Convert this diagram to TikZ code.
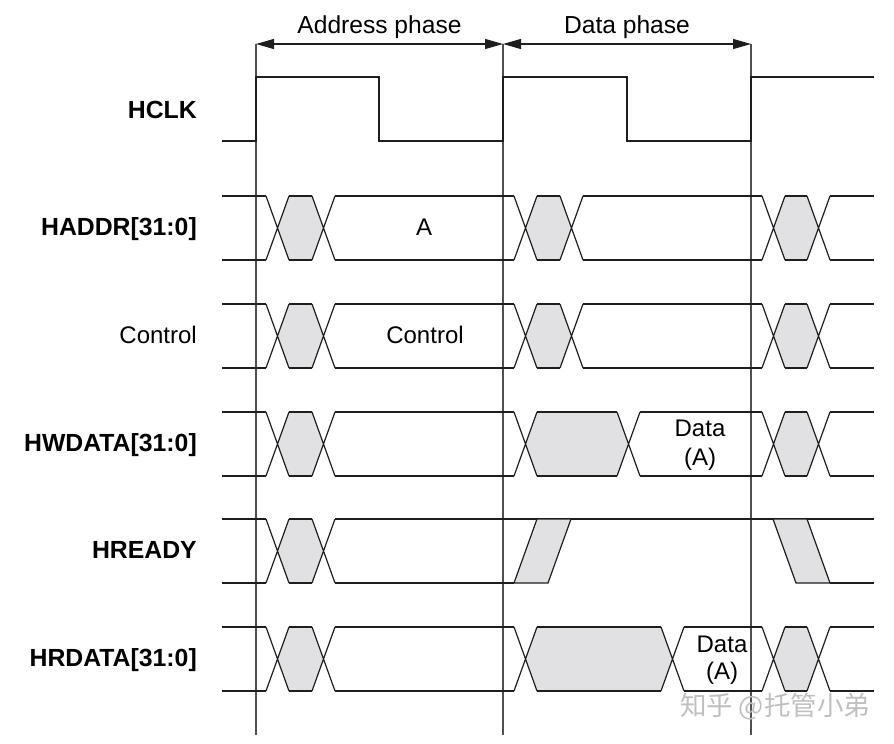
\documentclass[tikz,border=0pt]{standalone}
\usepackage{xcolor}
\usepackage{fontspec}
\setmainfont{Liberation Sans}
\newfontfamily\cjk{Noto Sans CJK SC}
\usepackage{tikz}
\usetikzlibrary{arrows.meta}

\definecolor{sigline}{RGB}{30,30,30}
\definecolor{edgeline}{RGB}{80,80,80}
\definecolor{busgrey}{RGB}{225,225,227}

% one bus crossing (an X) starting at x=#1 on the row whose top is #2
\newcommand{\xing}[2]{%
  \draw[sig] (#1,#2) -- ++(23,64) (#1,#2+64) -- ++(23,-64);}
% grey hexagon between the crossings at #1 and #2, row top #3
\newcommand{\hexfill}[3]{%
  \fill[busgrey] (#1+11.5,#3+32) -- (#1+23,#3) -- (#2,#3) -- (#2+11.5,#3+32)
    -- (#2,#3+64) -- (#1+23,#3+64) -- cycle;}

\begin{document}
\begin{tikzpicture}[x=1pt, y=-1pt,
    sig/.style={draw=sigline, line width=1.2pt, line join=miter},
    edgeln/.style={draw=edgeline, line width=1.1pt},
    phase/.style={draw=sigline, line width=1.1pt, {Triangle[length=18pt,width=10pt]}-{Triangle[length=18pt,width=10pt]}},
    lbl/.style={anchor=base east, inner sep=0pt, font=\fontsize{24}{28}\selectfont},
    signame/.style={lbl, font=\fontsize{24.8}{28}\selectfont\bfseries},
    txt/.style={anchor=base, inner sep=0pt, font=\fontsize{24}{28}\selectfont},
    ]
  \useasboundingbox (0,0) rectangle (894,744);

  % clock edges
  \coordinate (e1) at (256,44);
  \coordinate (e2) at (503,44);
  \coordinate (e3) at (751,44);
  \foreach \e in {e1,e2,e3}
    \draw[edgeln] (\e) -- ++(0,691);
  \draw[phase] (e1) -- (e2);
  \draw[phase] (e2) -- (e3);
  \node[txt, font=\fontsize{24.6}{28}\selectfont] (addr) at (379.5,33) {Address phase};
  \node[txt, font=\fontsize{24.6}{28}\selectfont] (data) at (627,33) {Data phase};

  % HCLK
  \draw[sig] (222,141) -- (256,141) -- (256,77) -- (379,77) -- (379,141) -- (503,141)
    -- (503,77) -- (627,77) -- (627,141) -- (751,141) -- (751,77) -- (874,77);

  % bus rows: top / start of second crossing after e2
  \foreach \t/\s in {196/560, 304/560, 412/617, 627/661} {
    \foreach \p/\q in {266/312, 514/\s, 762/807}
      \hexfill{\p}{\q}{\t};
    \foreach \c in {266, 312, 514, \s, 762, 807}
      \xing{\c}{\t};
    \foreach \d in {0,64}
      \draw[sig] (222,\t+\d) -- (266,\t+\d) (289,\t+\d) -- (312,\t+\d)
        (335,\t+\d) -- (514,\t+\d) (537,\t+\d) -- (\s,\t+\d)
        (\s+23,\t+\d) -- (762,\t+\d) (785,\t+\d) -- (807,\t+\d)
        (830,\t+\d) -- (874,\t+\d);
  }

  % HREADY
  \hexfill{266}{312}{519}
  \xing{266}{519}
  \xing{312}{519}
  \draw[sig] (222,519) -- (266,519) (289,519) -- (312,519) (335,519) -- (874,519);
  \draw[sig] (222,583) -- (266,583) (289,583) -- (312,583) (335,583) -- (514,583);
  \draw[sig] (830,583) -- (874,583);
  % rising and falling edges
  \filldraw[sig, fill=busgrey] (514,583) -- (537,519) -- (571,519) -- (548,583) -- cycle;
  \filldraw[sig, fill=busgrey] (773,519) -- (807,519) -- (830,583) -- (796,583) -- cycle;

  % signal names
  \node[signame] (hclk) at (197,118) {HCLK};
  \node[signame] (haddr) at (197,235.5) {HADDR[31:0]};
  \node[lbl] (ctrl) at (197,343.5) {Control};
  \node[signame] (hwdata) at (197,451.5) {HWDATA[31:0]};
  \node[signame] (hready) at (197,558.5) {HREADY};
  \node[signame] (hrdata) at (197,666.5) {HRDATA[31:0]};

  % values
  \node[txt] (vaddr) at (424,235.5) {A};
  \node[txt] (vctrl) at (425,343.5) {Control};
  \node[txt] (wdata1) at (700,436.5) {Data};
  \node[txt] (wdata2) at (700,465) {(A)};
  \node[txt] (rdata1) at (722,652) {Data};
  \node[txt] (rdata2) at (722,679.5) {(A)};

  \node[font=\cjk\fontsize{26.5}{30}\selectfont, text=black!25, inner sep=0pt] (wm) at (775,707) {知乎 @托管小弟};
\end{tikzpicture}
\end{document}
